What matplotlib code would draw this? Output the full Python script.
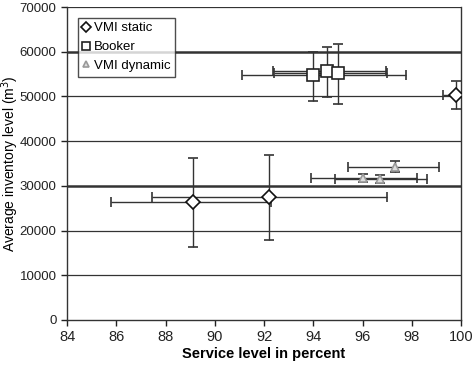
import matplotlib
matplotlib.use("Agg")
import matplotlib.pyplot as plt
import numpy as np

plt.rcParams['font.family'] = ['Liberation Sans', 'DejaVu Sans']

# VMI static
static_x = [89.1, 92.2, 99.8]
static_y = [26400, 27500, 50300]
static_xlo = [85.8, 87.45, 99.25]
static_xhi = [92.3, 97.0, 100.5]
static_ylo = [16300, 18000, 47200]
static_yhi = [36300, 36900, 53500]

# Booker
booker_x = [94.0, 94.55, 95.0]
booker_y = [54800, 55800, 55300]
booker_xlo = [91.1, 92.35, 92.4]
booker_xhi = [97.75, 96.95, 97.0]
booker_ylo = [49000, 49800, 48400]
booker_yhi = [60000, 61000, 61800]

# VMI dynamic
dyn_x = [96.0, 96.7, 97.3]
dyn_y = [31700, 31500, 34300]
dyn_xlo = [93.9, 94.9, 95.4]
dyn_xhi = [98.2, 98.6, 99.1]
dyn_ylo = [30800, 30600, 33100]
dyn_yhi = [32600, 32400, 35500]

x_ticks = [84, 86, 88, 90, 92, 94, 96, 98, 100]
y_ticks = [0, 10000, 20000, 30000, 40000, 50000, 60000, 70000]

fig = plt.figure(figsize=(4.74, 3.66), dpi=100)
ax = fig.add_axes([0.1414, 0.1257, 0.8312, 0.855])

for yv in y_ticks[1:]:
    lw = 1.8 if yv in (30000, 60000) else 0.9
    ax.axhline(yv, color='#333333', lw=lw, zorder=0)

def draw(x, y, xlo, xhi, ylo, yhi, marker, ms, mfc, mec, label):
    x = np.array(x); y = np.array(y)
    xerr = [x - np.array(xlo), np.array(xhi) - x]
    yerr = [y - np.array(ylo), np.array(yhi) - y]
    ax.errorbar(x, y, xerr=xerr, yerr=yerr, fmt='none', ecolor='#333333',
                elinewidth=1.0, capsize=3.5, capthick=1.2, zorder=2)
    ax.plot(x, y, linestyle='none', marker=marker, ms=ms, mfc=mfc, mec=mec,
            mew=1.2, zorder=3, label=label)

draw(static_x, static_y, static_xlo, static_xhi, static_ylo, static_yhi,
     'D', 7, 'white', '#111111', 'VMI static')
draw(booker_x, booker_y, booker_xlo, booker_xhi, booker_ylo, booker_yhi,
     's', 9, 'white', '#222222', 'Booker')
draw(dyn_x, dyn_y, dyn_xlo, dyn_xhi, dyn_ylo, dyn_yhi,
     '^', 6, '#dddddd', '#999999', 'VMI dynamic')

ax.set_xlim(84, 100)
ax.set_ylim(0, 70000)
ax.set_xticks(x_ticks)
ax.set_yticks(y_ticks)
ax.tick_params(direction='out', length=4, width=1, colors='#222222')
ax.tick_params(axis='y', labelsize=9.5)
ax.tick_params(axis='x', labelsize=10.5)
for s in ax.spines.values():
    s.set_color('#333333')
    s.set_linewidth(1.0)
ax.spines['top'].set_visible(False)

ax.set_xlabel('Service level in percent', fontsize=10.5, fontweight='bold', labelpad=2)
ax.set_ylabel('Average inventory level (m$^3$)', fontsize=10)
ax.yaxis.set_label_coords(-0.118, 0.5)

leg = ax.legend(loc='upper left', bbox_to_anchor=(0.022, 0.975), fontsize=9.5,
                frameon=True, fancybox=False, edgecolor='#222222',
                handlelength=0.5, handletextpad=0.3, borderpad=0.35,
                labelspacing=0.5, borderaxespad=0.2, markerscale=0.7)
leg.get_frame().set_linewidth(1.0)

fig.savefig('out.png', dpi=100)
